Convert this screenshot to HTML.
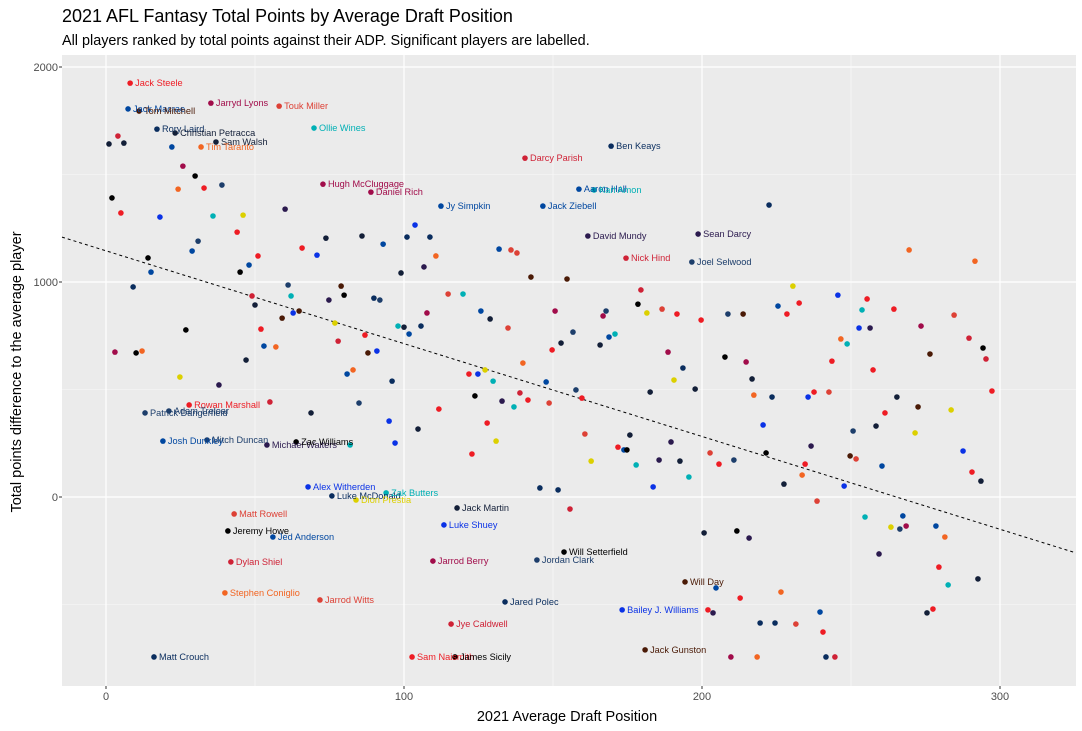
<!DOCTYPE html>
<html><head><meta charset="utf-8">
<style>
html,body{margin:0;padding:0;background:#fff;}
svg{display:block;font-family:"Liberation Sans",Arial,sans-serif;}
</style></head>
<body>
<svg id="chart" width="1082" height="731" viewBox="0 0 1082 731" xmlns="http://www.w3.org/2000/svg">
<text x="62" y="22" font-size="18" fill="#000">2021 AFL Fantasy Total Points by Average Draft Position</text>
<text x="62" y="45" font-size="14.4" fill="#000">All players ranked by total points against their ADP. Significant players are labelled.</text>
<rect x="62" y="55" width="1014" height="631" fill="#ebebeb"/>
<g id="grid"></g>
<g id="axes"></g>
<line id="trend" stroke="#000" stroke-width="1" stroke-dasharray="3,3"/>
<g id="points"></g>
<g id="labels"></g>
<text x="567" y="721" font-size="14.5" text-anchor="middle" fill="#000">2021 Average Draft Position</text>
<text transform="translate(21,372) rotate(-90)" font-size="14.5" text-anchor="middle" fill="#000">Total points difference to the average player</text>
</svg>
<script>
const xTicks=[0,100,200,300];
const yTicks=[-500,0,1000,2000];
const xMinor=[50,150,250];
const yMinor=[-500,500,1500];
const yMajor=[0,1000,2000];
const trendIntercept=1145;
const trendSlope=-4.317;
const palette={R:"#ee1c24",C:"#cf2236",T:"#dd4136",O:"#f26522",M:"#a10c4a",N:"#0a2d5e",B:"#0047a0",U:"#0a32e6",K:"#000000",D:"#131f38",P:"#2b1a4e",W:"#4a1a06",Y:"#dcd000",E:"#00b0b5",S:"#1d3e6b"};
const names=["Jack Steele","Jack Macrae","Tom Mitchell","Jarryd Lyons","Touk Miller","Ollie Wines","Rory Laird","Christian Petracca","Sam Walsh","Tim Taranto","Hugh McCluggage","Daniel Rich","Jy Simpkin","Darcy Parish","Ben Keays","Aaron Hall","Karl Amon","Jack Ziebell","David Mundy","Sean Darcy","Nick Hind","Joel Selwood","Rowan Marshall","Patrick Dangerfield","Adam Treloar","Josh Dunkley","Mitch Duncan","Michael Walters","Zac Williams","Alex Witherden","Luke McDonald","Zak Butters","Dion Prestia","Matt Rowell","Jeremy Howe","Jed Anderson","Dylan Shiel","Stephen Coniglio","Jarrod Witts","Matt Crouch","Jack Martin","Luke Shuey","Will Setterfield","Jordan Clark","Jarrod Berry","Jared Polec","Jye Caldwell","Sam Naismith","James Sicily","Jack Gunston","Will Day","Bailey J. Williams"];
const labelAdp=[8.1,7.4,11.1,35.2,58.1,69.8,17.1,23.2,36.9,31.9,72.8,88.9,112.4,140.6,169.5,158.7,163.8,146.6,161.7,198.7,174.5,196.6,27.9,13.1,21.1,19.1,33.9,54.0,63.8,67.8,75.8,94.0,83.9,43.0,40.9,56.0,41.9,39.9,71.8,16.1,117.8,113.4,153.7,144.6,109.7,133.9,115.8,102.7,117.1,180.9,194.3,173.2];
const labelDiff=[1925,1805,1795,1832,1818,1716,1711,1693,1651,1628,1455,1418,1353,1576,1632,1432,1428,1353,1214,1223,1111,1093,428,391,400,260,265,242,256,47,5,19,-14,-79,-158,-186,-302,-446,-479,-744,-51,-130,-256,-293,-298,-488,-591,-744,-744,-711,-395,-525];
const labelTeam=["R","B","W","M","T","E","N","D","D","O","M","M","B","C","N","B","E","B","P","P","C","S","R","S","S","B","S","P","K","U","N","E","Y","T","K","B","C","O","T","N","D","U","K","S","M","N","C","R","K","W","W","U"];
const adp=[4.0,1.0,6.0,22.1,25.8,29.9,24.2,32.9,38.9,2.0,5.0,18.1,35.9,46.0,60.1,44.0,30.9,28.9,14.1,51.0,65.8,70.8,73.8,85.9,93.0,101.0,103.7,99.0,15.1,45.0,
108.7,110.7,106.7,131.9,135.9,137.9,142.6,154.7,114.8,119.8,107.7,125.8,128.9,134.9,150.7,167.8,166.8,170.8,168.8,156.7,152.7,165.8,149.7,139.9,178.5,179.5,181.5,186.6,191.6,199.7,208.7,213.8,188.6,207.7,193.6,105.7,127.2,121.8,124.8,
222.5,269.5,291.6,230.5,245.6,255.4,225.5,232.6,228.5,264.4,253.7,284.6,252.7,256.4,273.5,289.6,246.6,248.7,294.3,276.5,295.3,214.8,243.6,257.4,216.8,297.3,217.4,223.5,235.6,237.6,242.6,265.4,272.5,283.6,261.4,258.4,250.7,220.5,271.5,236.6,221.5,249.7,251.7,234.6,260.4,287.6,290.6,233.6,
48.0,9.1,61.1,78.9,49.0,62.1,79.9,74.8,89.9,91.9,50.0,62.8,64.8,59.1,76.8,98.0,100.0,101.7,86.9,77.9,26.8,52.0,53.0,57.0,3.0,10.1,12.1,87.9,90.9,47.0,80.9,82.9,96.0,24.8,37.9,55.0,84.9,68.8,95.0,104.7,97.0,81.9,
129.9,147.7,123.8,111.7,132.9,138.9,141.6,136.9,148.7,157.7,159.7,190.6,182.6,197.7,127.9,130.9,122.8,160.7,175.8,171.8,173.8,174.8,189.6,162.8,177.9,185.6,192.6,202.7,205.7,210.7,195.6,183.6,145.6,151.7,155.7,
227.5,247.7,293.6,238.6,254.7,267.4,263.4,266.4,268.5,278.5,281.5,200.7,211.7,215.8,259.4,279.5,292.6,282.6,204.7,212.8,226.5,202.0,203.7,239.6,275.5,277.5,219.5,224.5,231.5,240.6,209.7,218.5,241.6,244.6];
const diff=[1679,1642,1646,1628,1539,1493,1432,1437,1451,1391,1321,1302,1307,1311,1339,1232,1190,1144,1112,1121,1158,1125,1204,1214,1176,1209,1265,1042,1046,1046,
1209,1121,1070,1153,1149,1135,1023,1014,944,944,856,865,828,786,865,865,842,758,744,767,716,707,684,623,897,963,856,874,851,823,851,851,674,651,600,795,591,572,572,
1358,1149,1097,981,939,921,888,902,851,874,870,846,786,786,795,739,735,712,693,665,642,628,632,591,549,493,474,465,465,488,488,465,419,405,391,330,307,335,298,237,205,191,177,153,144,214,116,102,
1079,977,986,981,935,935,939,916,925,916,893,856,865,832,809,795,790,758,753,725,777,781,702,698,674,670,679,670,679,637,572,591,539,558,521,442,437,391,353,316,251,242,
539,535,470,409,446,484,451,419,437,498,460,544,488,502,344,260,200,293,288,232,219,219,256,167,149,172,167,205,153,172,93,47,42,33,-56,
60,51,74,-19,-93,-88,-140,-149,-135,-135,-186,-167,-158,-191,-265,-326,-381,-409,-423,-470,-442,-525,-539,-535,-539,-521,-586,-586,-591,-628,-744,-744,-744,-744];
const team=["C","D","D","B","M","K","O","R","S","K","R","U","E","Y","P","R","S","B","K","R","R","U","D","D","B","N","U","D","B","K",
"N","O","P","B","T","T","W","W","T","E","M","B","D","T","M","S","M","E","B","S","D","D","R","O","K","C","Y","T","R","R","S","W","M","K","N","N","Y","R","U",
"N","O","O","Y","U","R","B","R","R","R","E","T","U","P","M","C","O","E","K","W","C","M","R","R","D","R","O","N","U","R","T","D","W","Y","R","D","S","U","Y","P","K","W","T","R","B","U","R","O",
"B","N","S","W","C","E","K","P","N","S","D","U","W","W","Y","E","D","B","R","C","K","R","B","O","M","K","O","W","U","D","B","O","N","Y","P","C","S","D","U","D","U","E",
"E","B","K","R","P","C","R","E","T","S","R","Y","D","D","R","Y","R","T","D","R","B","K","P","Y","E","P","D","T","R","S","E","U","N","N","C",
"D","U","D","T","E","B","Y","S","M","B","O","D","K","P","P","R","D","E","B","R","O","R","P","B","D","R","N","N","T","R","M","O","N","C"];

const NS="http://www.w3.org/2000/svg";
const PX0=106, PXS=2.98, PY0=497, PYS=0.215;
const L=62,R=1076,T=55,B=686;
function sx(v){return PX0+v*PXS;}
function sy(v){return PY0-v*PYS;}
function mk(tag,attrs,parent){const e=document.createElementNS(NS,tag);for(const k in attrs)e.setAttribute(k,attrs[k]);parent.appendChild(e);return e;}
const grid=document.getElementById('grid'), axes=document.getElementById('axes');
xMinor.forEach(v=>{const l=mk('line',{x1:sx(v),x2:sx(v),y1:T,y2:B,stroke:'#fafafa','stroke-width':0.6},grid);

});
yMinor.forEach(v=>{const l=mk('line',{x1:L,x2:R,y1:sy(v),y2:sy(v),stroke:'#fafafa','stroke-width':0.6},grid);

});
xTicks.forEach(v=>{const l=mk('line',{x1:sx(v),x2:sx(v),y1:T,y2:B,stroke:'#fff','stroke-width':1.2},grid);


const tk=mk('line',{x1:sx(v),x2:sx(v),y1:B,y2:B+3,stroke:'#333','stroke-width':1},axes);


const t=mk('text',{x:sx(v),y:B+14,'font-size':11,'text-anchor':'middle',fill:'#4d4d4d'},axes);t.textContent=v;

});
yMajor.forEach(v=>{const l=mk('line',{x1:L,x2:R,y1:sy(v),y2:sy(v),stroke:'#fff','stroke-width':1.2},grid);


const tk=mk('line',{x1:L-3,x2:L,y1:sy(v),y2:sy(v),stroke:'#333','stroke-width':1},axes);


const t=mk('text',{x:L-4,y:sy(v)+4,'font-size':11,'text-anchor':'end',fill:'#4d4d4d'},axes);t.textContent=v;

});
const xLo=(L-PX0)/PXS, xHi=(R-PX0)/PXS;
const tr=document.getElementById('trend');
tr.setAttribute('x1',sx(xLo));tr.setAttribute('y1',sy(trendIntercept+trendSlope*xLo));
tr.setAttribute('x2',sx(xHi));tr.setAttribute('y2',sy(trendIntercept+trendSlope*xHi));
const pts=document.getElementById('points'), lbs=document.getElementById('labels');
adp.forEach((v,i)=>{const c=mk('circle',{cx:sx(v),cy:sy(diff[i]),r:2.8,fill:palette[team[i]]},pts);

});
names.forEach((n,i)=>{const x=sx(labelAdp[i]),y=sy(labelDiff[i]);
const c=mk('circle',{cx:x,cy:y,r:2.8,fill:palette[labelTeam[i]]},pts);


const t=mk('text',{x:x+5,y:y+3,'font-size':9.2,fill:palette[labelTeam[i]]},lbs);t.textContent=n;

});
</script>
</body></html>
